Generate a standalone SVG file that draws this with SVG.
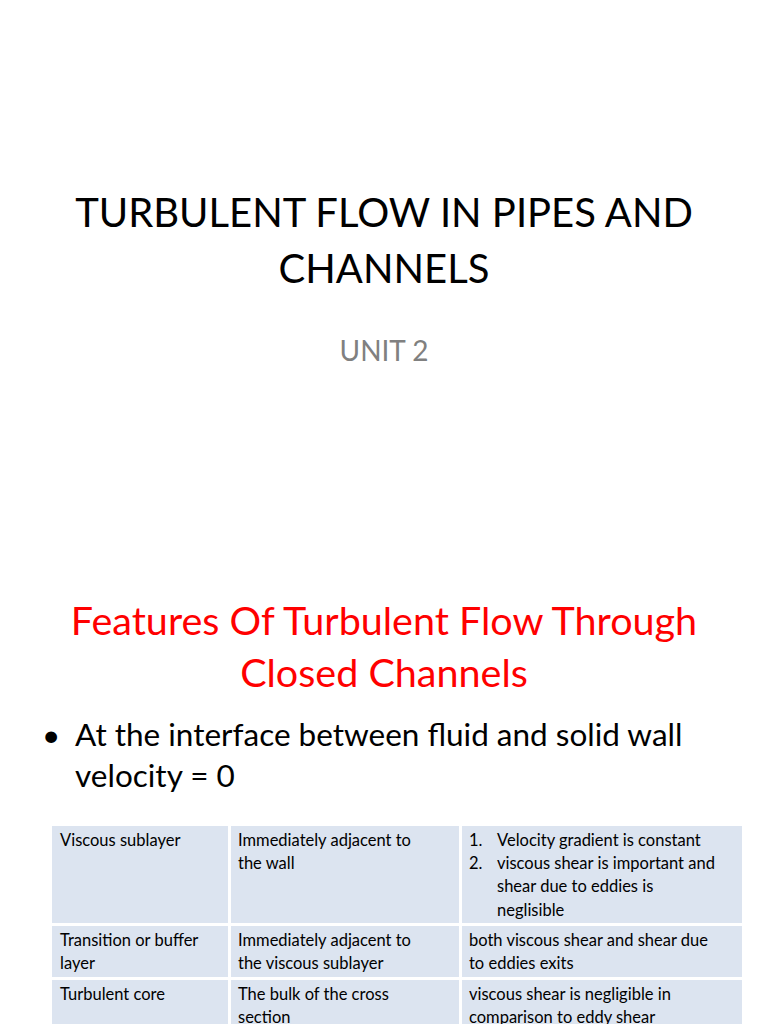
<svg xmlns="http://www.w3.org/2000/svg" width="768" height="1024" viewBox="0 0 768 1024">
<style>
text{font-family:Lato,"Open Sans",sans-serif}
.t{font-size:40px;fill:#000}
.u{font-size:28px;fill:#808080}
.r{font-size:39.5px;fill:#ff0000}
.b{font-size:31.5px;fill:#000}
.c{font-size:16.5px;fill:#000}
.cell{fill:#dce4f0}
</style>
<rect width="768" height="1024" fill="#fff"/>
<text class="t" x="384" y="227" text-anchor="middle">TURBULENT FLOW IN PIPES AND</text>
<text class="t" x="384" y="283" text-anchor="middle">CHANNELS</text>
<text class="u" x="384" y="361" text-anchor="middle">UNIT 2</text>
<text class="r" x="384" y="635" text-anchor="middle">Features Of Turbulent Flow Through</text>
<text class="r" x="384" y="687" text-anchor="middle">Closed Channels</text>
<text class="b" x="42" y="746">•</text>
<text class="b" x="75" y="746">At the interface between fluid and solid wall</text>
<text class="b" x="75" y="787">velocity = 0</text>
<g id="table">
<rect class="cell" x="52" y="826" width="176" height="97"/>
<rect class="cell" x="231" y="826" width="228" height="97"/>
<rect class="cell" x="462" y="826" width="280" height="97"/>
<rect class="cell" x="52" y="926" width="176" height="51"/>
<rect class="cell" x="231" y="926" width="228" height="51"/>
<rect class="cell" x="462" y="926" width="280" height="51"/>
<rect class="cell" x="52" y="980" width="176" height="44"/>
<rect class="cell" x="231" y="980" width="228" height="44"/>
<rect class="cell" x="462" y="980" width="280" height="44"/>
<text class="c" x="60" y="846">Viscous sublayer</text>
<text class="c" x="238" y="846">Immediately adjacent to</text>
<text class="c" x="238" y="869">the wall</text>
<text class="c" x="469" y="846">1.</text>
<text class="c" x="497" y="846">Velocity gradient is constant</text>
<text class="c" x="469" y="869">2.</text>
<text class="c" x="497" y="869">viscous shear is important and</text>
<text class="c" x="497" y="892">shear due to eddies is</text>
<text class="c" x="497" y="916">neglisible</text>
<text class="c" x="60" y="946">Transition or buffer</text>
<text class="c" x="60" y="969">layer</text>
<text class="c" x="238" y="946">Immediately adjacent to</text>
<text class="c" x="238" y="969">the viscous sublayer</text>
<text class="c" x="469" y="946">both viscous shear and shear due</text>
<text class="c" x="469" y="969">to eddies exits</text>
<text class="c" x="60" y="1000">Turbulent core</text>
<text class="c" x="238" y="1000">The bulk of the cross</text>
<text class="c" x="238" y="1023">section</text>
<text class="c" x="469" y="1000">viscous shear is negligible in</text>
<text class="c" x="469" y="1023">comparison to eddy shear</text>
</g>
</svg>
